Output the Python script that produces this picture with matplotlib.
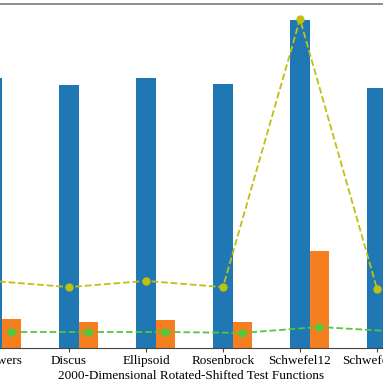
import matplotlib
matplotlib.use("Agg")
import matplotlib.pyplot as plt
import numpy as np

# categories (cropped view, outer labels cut by the frame)
functions = ["DiffPowers", "Discus", "Ellipsoid", "Rosenbrock", "Schwefel12", "Schwefel221"]

# bar values (normalised)
bar_blue = [0.785, 0.765, 0.785, 0.767, 0.953, 0.756]
bar_orange = [0.084, 0.076, 0.081, 0.076, 0.282, 0.080]

# dashed lines with markers
line_yellow = [0.195, 0.177, 0.195, 0.177, 0.956, 0.172]
line_green = [0.0465, 0.0465, 0.0465, 0.044, 0.061, 0.048]

plt.rcParams['font.family'] = ['Liberation Serif', 'DejaVu Serif']

fig = plt.figure(figsize=(3.83, 3.83), dpi=100)
# axes run wider than the figure: the picture is a crop of a wider chart
ax = fig.add_axes([-0.5, 0.0914, 2.0, 0.8982])

x = np.arange(len(functions))
w = 0.25
ax.bar(x, bar_blue, width=w, color='#1f77b4', zorder=2)
ax.bar(x + w, bar_orange, width=w, color='#f57f20', zorder=2)
ax.plot(x, line_yellow, '--o', color='#c0c010', lw=1.3, ms=5, zorder=3)
ax.plot(x + w, line_green, '--o', color='#52c83c', lw=1.3, ms=5, zorder=3)

ax.set_xlim(-2.383, 7.565)
ax.set_ylim(0, 1.0)
ax.set_xticks(x)
ax.set_xticklabels(functions, fontsize=9.5)
ax.set_yticks([])
ax.tick_params(axis='x', length=3, pad=2, color='#444444', width=0.8)
ax.set_xlabel('2000-Dimensional Rotated-Shifted Test Functions', fontsize=9.5, labelpad=2)
for s in ax.spines.values():
    s.set_color('#707070')
    s.set_linewidth(1.1)
ax.spines['bottom'].set_color('#444444')
ax.spines['bottom'].set_linewidth(0.8)

fig.savefig('out.png', dpi=100)
